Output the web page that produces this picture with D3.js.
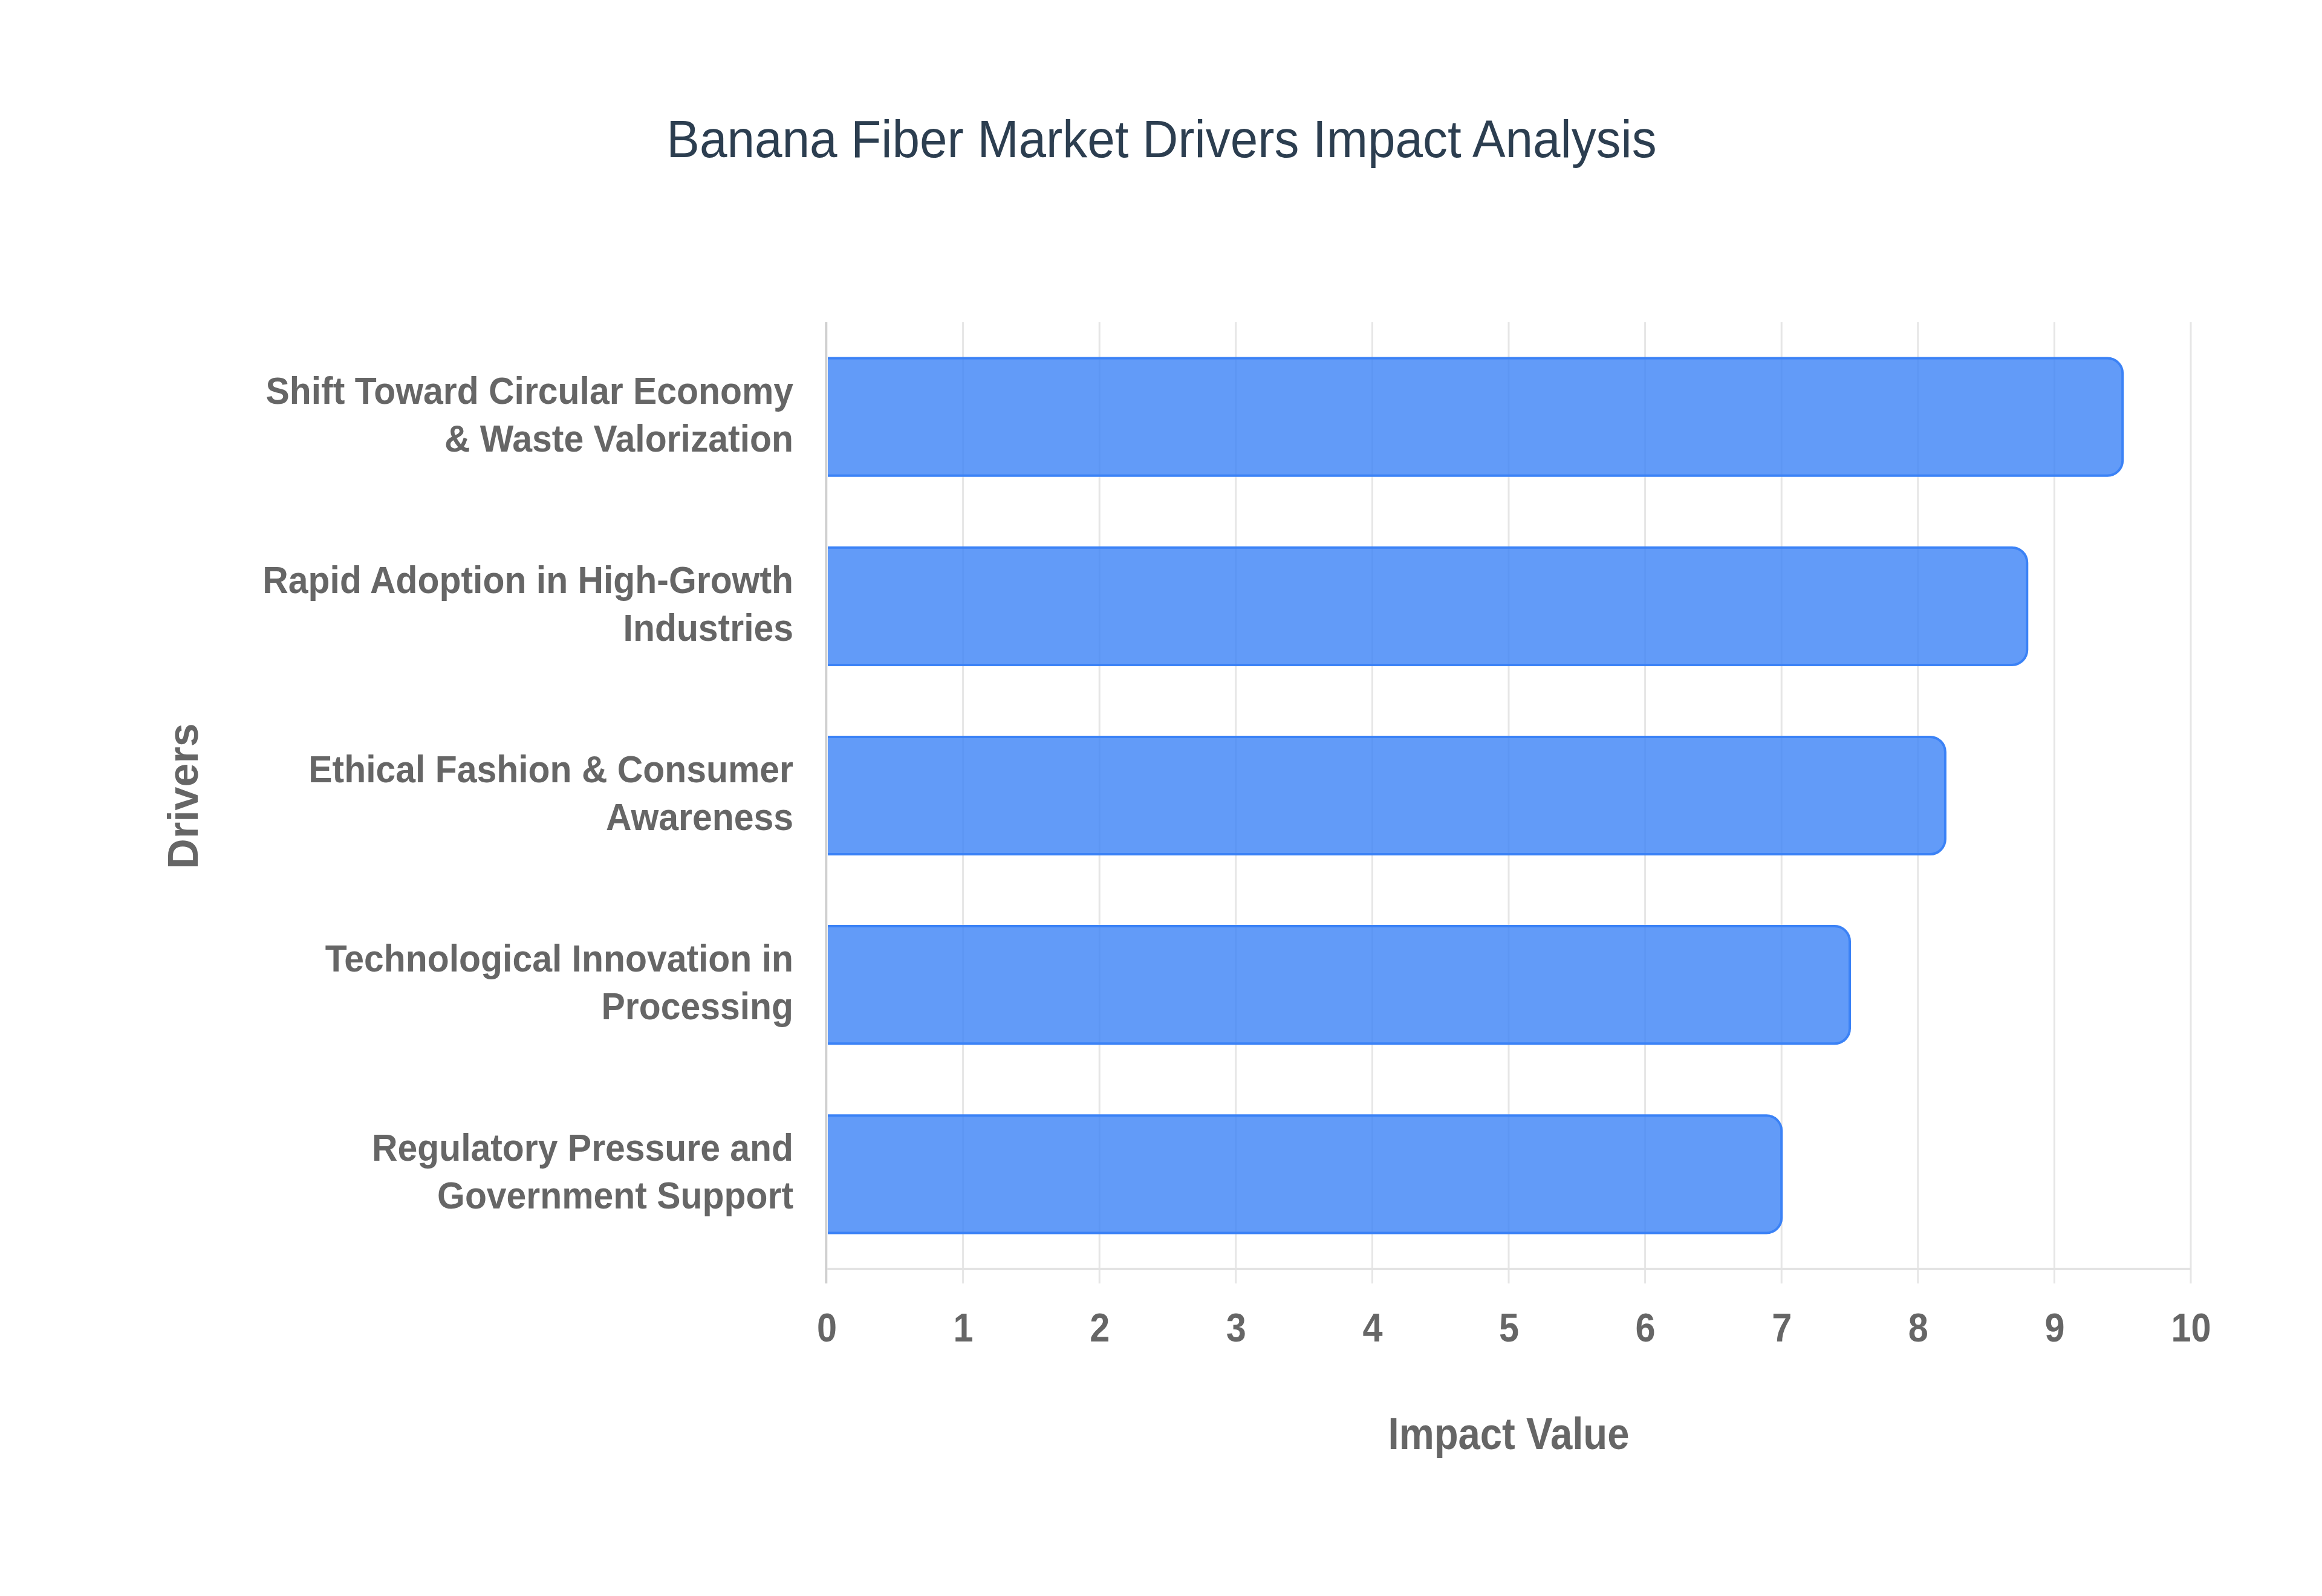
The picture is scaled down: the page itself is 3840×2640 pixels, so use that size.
<!DOCTYPE html>
<html>
<head>
<meta charset="utf-8">
<script src="https://cdn.jsdelivr.net/npm/d3@7"></script>
<style>
  html, body { margin: 0; padding: 0; background: #ffffff; }
  svg { display: block; }
</style>
</head>
<body>
<svg id="chart" width="3840" height="2640"></svg>
<script>
// ---- data ----
const chartTitle = "Banana Fiber Market Drivers Impact Analysis";
const categories = [
  ["Shift Toward Circular Economy", "& Waste Valorization"],
  ["Rapid Adoption in High-Growth", "Industries"],
  ["Ethical Fashion & Consumer", "Awareness"],
  ["Technological Innovation in", "Processing"],
  ["Regulatory Pressure and", "Government Support"]
];
const impactValues = [9.5, 8.8, 8.2, 7.5, 7.0];
const xTicks = [0, 1, 2, 3, 4, 5, 6, 7, 8, 9, 10];
const xAxisTitle = "Impact Value";
const yAxisTitle = "Drivers";

// ---- layout ----
const W = 3840, H = 2640;
const plot = { left: 1367, right: 3623, top: 533, bottom: 2099 };
const sx = 0.92; // horizontal text compression seen in reference
const fontFam = "'Liberation Sans', Arial, Helvetica, sans-serif";

const svg = d3.select("#chart");

const x = d3.scaleLinear().domain([0, 10]).range([plot.left, plot.right]);
const keys = categories.map((c, i) => i);
const y = d3.scaleBand().domain(keys).range([plot.top, plot.bottom])
  .paddingInner(0.38).paddingOuter(0.19);

// gridlines
svg.append("g").selectAll("line").data(xTicks).join("line")
  .attr("x1", d => x(d)).attr("x2", d => x(d))
  .attr("y1", plot.top).attr("y2", plot.bottom + 24)
  .attr("stroke", "#e6e6e6").attr("stroke-width", 3);

// x axis (ticks + labels)
const xAxisG = svg.append("g")
  .attr("transform", `translate(0,${plot.bottom})`)
  .call(d3.axisBottom(x).tickValues(xTicks).tickFormat(d3.format("d")).tickSize(0).tickPadding(0));
xAxisG.select(".domain").remove();
xAxisG.selectAll(".tick line").remove();
xAxisG.selectAll(".tick text")
  .attr("y", 0).attr("dy", null)
  .attr("transform", `translate(0,120) scale(0.9,1)`)
  .attr("font-family", fontFam).attr("font-weight", "bold")
  .attr("font-size", 66).attr("fill", "#666666");

// x axis baseline
svg.append("line")
  .attr("x1", plot.left).attr("x2", plot.right)
  .attr("y1", plot.bottom).attr("y2", plot.bottom)
  .attr("stroke", "#e3e3e3").attr("stroke-width", 4);

// bars
const r = 25;
const bars = svg.append("g");
impactValues.forEach((v, i) => {
  const x0 = x(0) + 2, x1 = x(v);
  const y0 = y(i), y1 = y(i) + y.bandwidth();
  const fillPath = `M${x0},${y0} H${x1 - r} A${r},${r} 0 0 1 ${x1},${y0 + r} V${y1 - r} A${r},${r} 0 0 1 ${x1 - r},${y1} H${x0} Z`;
  const strokePath = `M${x0},${y0} H${x1 - r} A${r},${r} 0 0 1 ${x1},${y0 + r} V${y1 - r} A${r},${r} 0 0 1 ${x1 - r},${y1} H${x0}`;
  bars.append("path").attr("d", fillPath).attr("fill", "rgba(59,130,246,0.8)");
  bars.append("path").attr("d", strokePath).attr("fill", "none")
    .attr("stroke", "#3b82f6").attr("stroke-width", 4);
});

// y axis line
svg.append("line")
  .attr("x1", plot.left - 1).attr("x2", plot.left - 1)
  .attr("y1", plot.top).attr("y2", plot.bottom + 24)
  .attr("stroke", "#cccccc").attr("stroke-width", 3);

// y category labels (multi-line)
const yAxisG = svg.append("g")
  .attr("transform", `translate(${plot.left},0)`)
  .call(d3.axisLeft(y).tickSize(0).tickFormat(""));
yAxisG.select(".domain").remove();
const labelG = svg.append("g");
categories.forEach((lines, i) => {
  const cy = y(i) + y.bandwidth() / 2;
  const g = labelG.append("g").attr("transform", `translate(1312,${cy}) scale(0.935,1)`);
  const t = g.append("text")
    .attr("text-anchor", "end")
    .attr("font-family", fontFam).attr("font-weight", "bold")
    .attr("font-size", 63).attr("fill", "#666666");
  lines.forEach((ln, j) => {
    t.append("tspan").attr("x", 0).attr("y", -22 + j * 79).text(ln);
  });
});

// title
svg.append("g").attr("transform", `translate(1921,260) scale(0.93,1)`)
  .append("text").attr("text-anchor", "middle")
  .attr("font-family", fontFam).attr("font-size", 88)
  .attr("fill", "#2c3e50").text(chartTitle);

// x axis title
svg.append("g").attr("transform", `translate(${(plot.left + plot.right) / 2},2397) scale(0.87,1)`)
  .append("text").attr("text-anchor", "middle")
  .attr("font-family", fontFam).attr("font-weight", "bold").attr("font-size", 75)
  .attr("fill", "#666666").text(xAxisTitle);

// y axis title
svg.append("g").attr("transform", `translate(327,1317) rotate(-90)`)
  .append("text").attr("text-anchor", "middle")
  .attr("font-family", fontFam).attr("font-weight", "bold").attr("font-size", 70)
  .attr("fill", "#666666").text(yAxisTitle);
</script>
</body>
</html>
